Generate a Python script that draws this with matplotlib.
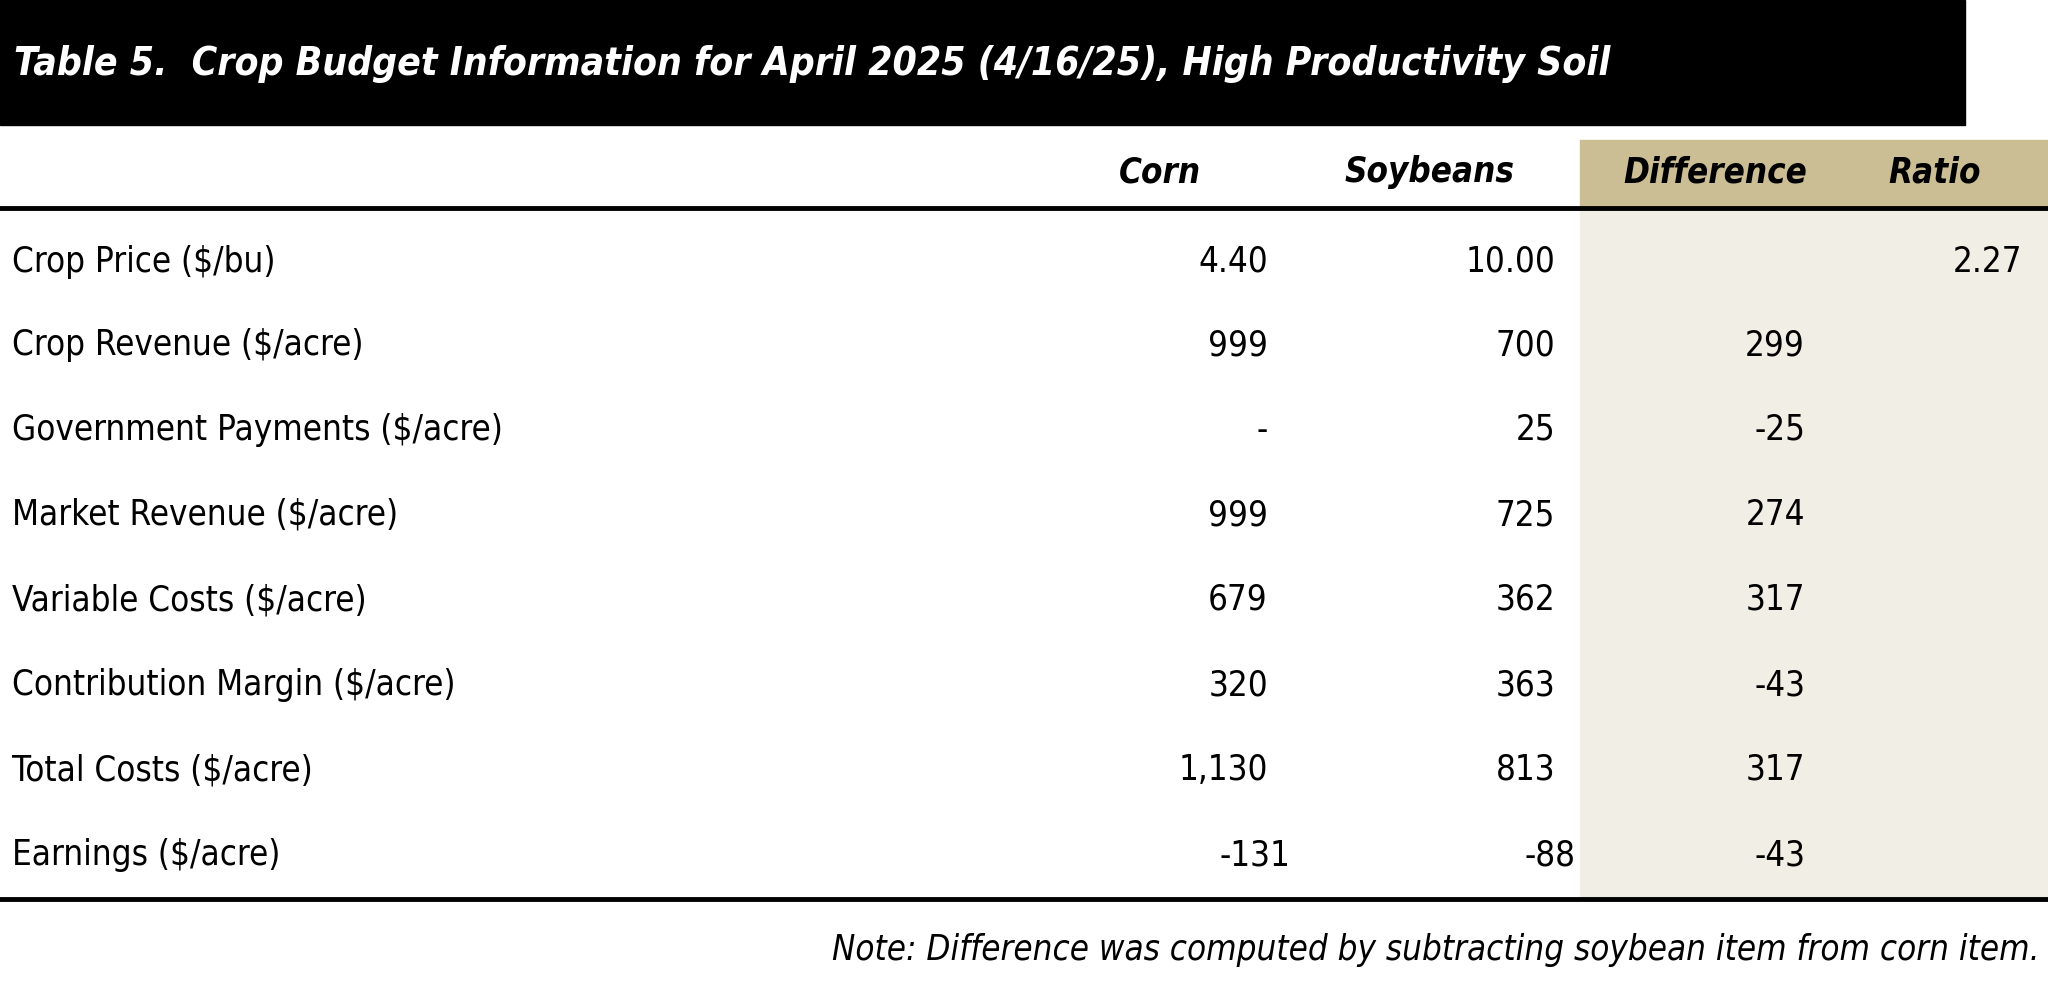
import matplotlib.pyplot as plt
from matplotlib.patches import Rectangle

title = "Table 5.  Crop Budget Information for April 2025 (4/16/25), High Productivity Soil"
columns = ["Corn", "Soybeans", "Difference", "Ratio"]
row_labels = ["Crop Price ($/bu)", "Crop Revenue ($/acre)", "Government Payments ($/acre)",
              "Market Revenue ($/acre)", "Variable Costs ($/acre)", "Contribution Margin ($/acre)",
              "Total Costs ($/acre)", "Earnings ($/acre)"]
corn = ["4.40", "999", "-", "999", "679", "320", "1,130", "-131"]
soybeans = ["10.00", "700", "25", "725", "362", "363", "813", "-88"]
difference = ["", "299", "-25", "274", "317", "-43", "317", "-43"]
ratio = ["2.27", "", "", "", "", "", "", ""]
note = "Note: Difference was computed by subtracting soybean item from corn item."

plt.rcParams['font.family'] = ["DejaVu Sans"]
plt.rcParams['font.stretch'] = 'condensed'

fig = plt.figure(figsize=(20.48, 9.98), dpi=100)
ax = fig.add_axes([0, 0, 1, 1])
ax.set_xlim(0, 2048)
ax.set_ylim(998, 0)
ax.axis('off')

# title bar
ax.add_patch(Rectangle((0, 0), 1965, 125, color='black'))
ax.text(14, 64, title, color='white', fontsize=28, fontweight='bold', style='italic',
        va='center', ha='left')

# shaded difference/ratio columns
ax.add_patch(Rectangle((1580, 140), 468, 68, color='#cbbd94'))
ax.add_patch(Rectangle((1580, 208), 468, 692, color='#f1eee5'))

ax.plot([0, 2048], [208, 208], color='black', lw=3.5)
ax.plot([0, 2048], [899, 899], color='black', lw=3.5)

header_x = [1160, 1430, 1715, 1935]
for x, c in zip(header_x, columns):
    ax.text(x, 172, c, fontsize=25, fontweight='bold', style='italic', ha='center', va='center')

row_y = [262, 345, 430, 515, 600, 685, 770, 855]
for i, (y, lab) in enumerate(zip(row_y, row_labels)):
    ax.text(12, y, lab, fontsize=25, ha='left', va='center')
    last = i == len(row_labels) - 1
    ax.text(1290 if last else 1268, y, corn[i], fontsize=25, ha='right', va='center')
    ax.text(1575 if last else 1555, y, soybeans[i], fontsize=25, ha='right', va='center')
    ax.text(1805, y, difference[i], fontsize=25, ha='right', va='center')
    ax.text(2022, y, ratio[i], fontsize=25, ha='right', va='center')

ax.text(2040, 950, note, fontsize=25, style='italic', ha='right', va='center')

fig.savefig('out.png', dpi=100)
